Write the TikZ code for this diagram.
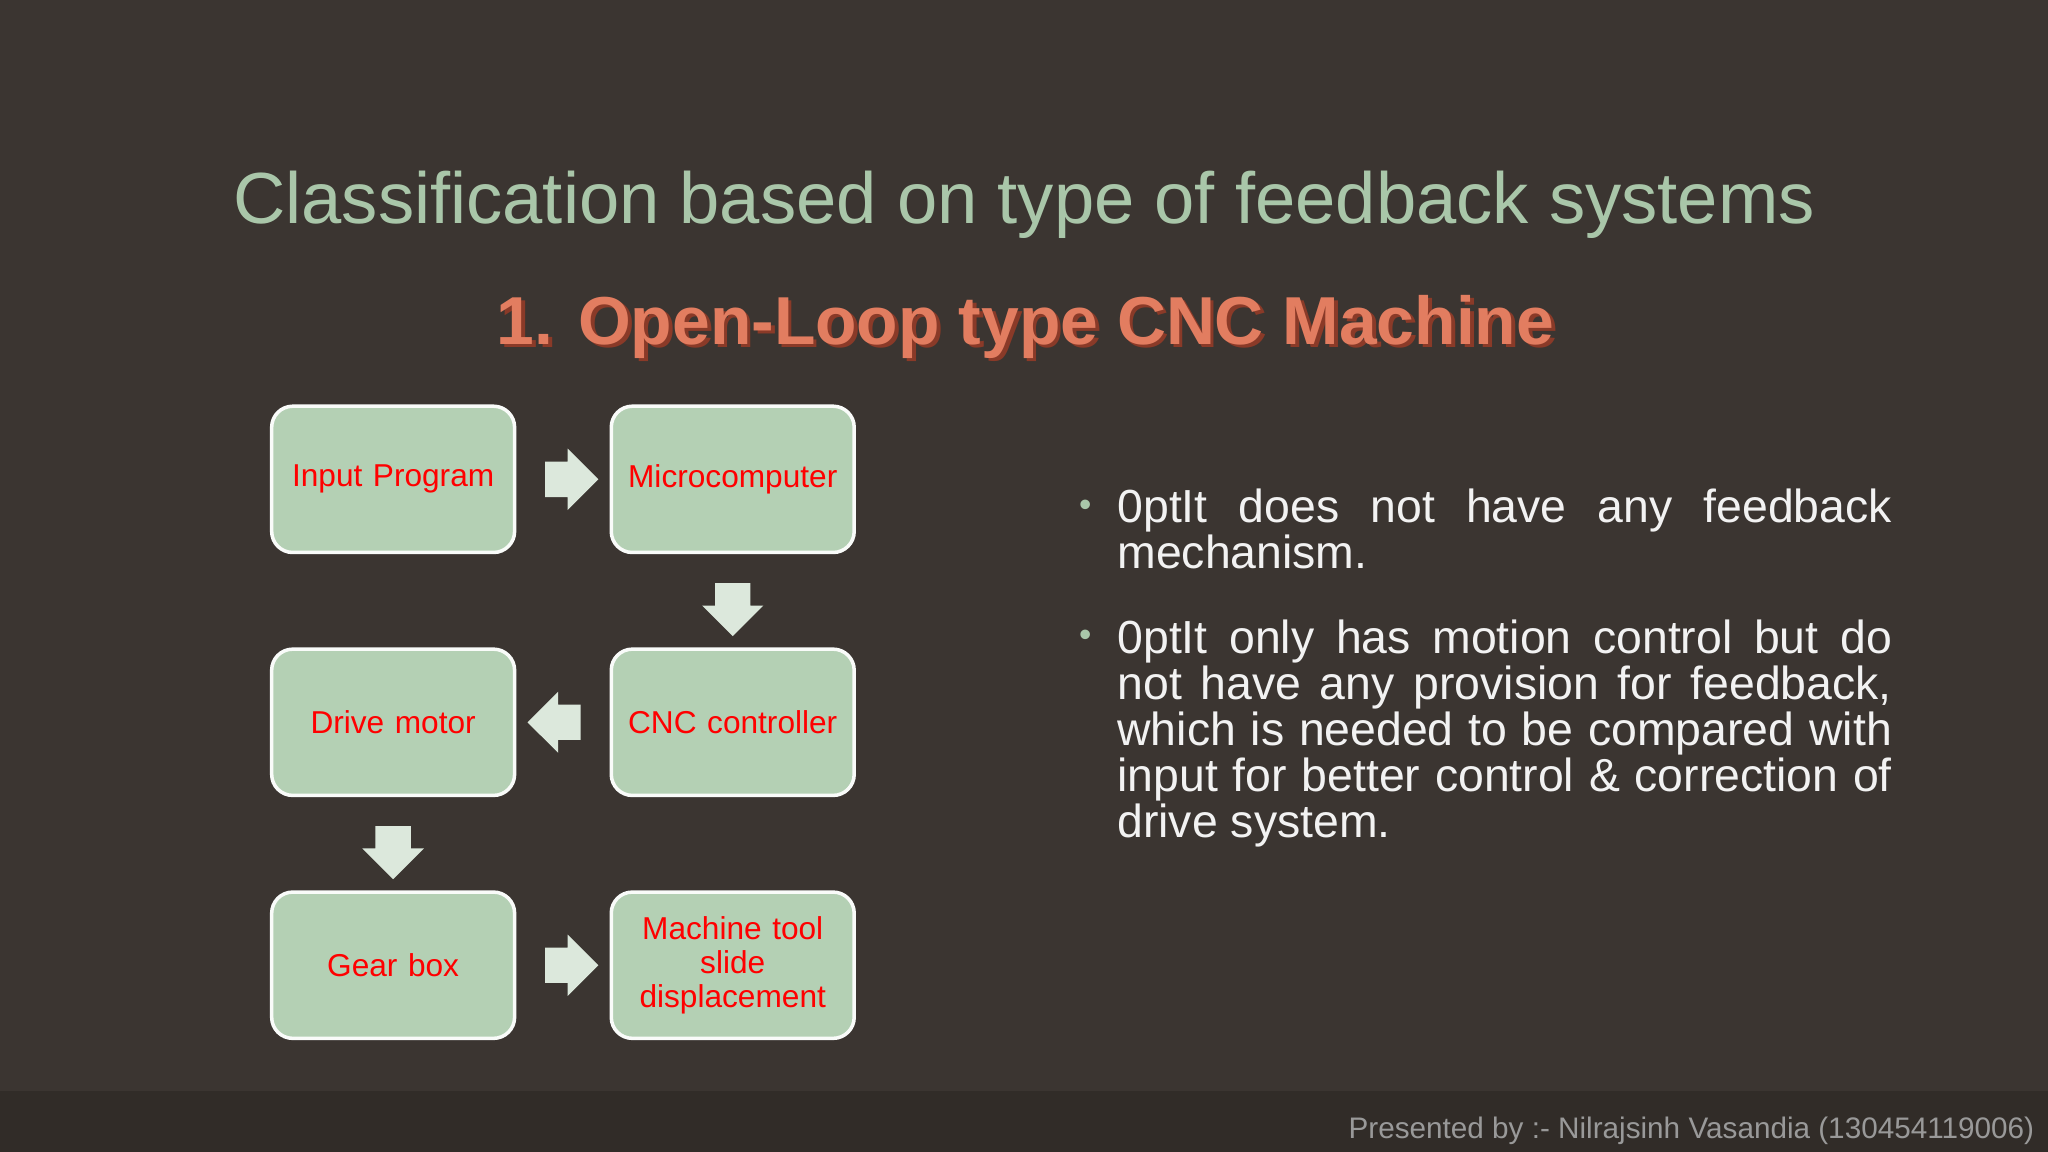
\documentclass[tikz,border=0pt]{standalone}
\usepackage{fontspec}
\setmainfont{Liberation Sans}
\usetikzlibrary{shapes.arrows,calc}
\definecolor{bg}{HTML}{3B3531}
\definecolor{foot}{HTML}{312C28}
\definecolor{ttl}{HTML}{A9C6A9}
\definecolor{sub}{HTML}{E27D60}
\definecolor{subd}{HTML}{8A3A28}
\definecolor{boxf}{HTML}{B4D0B4}
\definecolor{arr}{HTML}{DCE8DC}
\definecolor{txt}{HTML}{F2F2F2}
\begin{document}
\begin{tikzpicture}[x=0.01306cm,y=-0.01306cm,
  blk/.style={draw=white!92!boxf,line width=1pt,fill=boxf,rounded corners=6pt,minimum width=186*0.01306cm,minimum height=112*0.01306cm,text width=180*0.01306cm,align=center,text=red,font=\fontsize{9}{9.6}\selectfont,inner sep=0pt},
  arw/.style={single arrow,fill=arr,draw=none,single arrow head extend=0.13cm,minimum height=40*0.01306cm,inner sep=0.17cm},
  body/.style={anchor=north west,text=txt,text width=593*0.01306cm,align=justify,font=\fontsize{13.2}{13.1}\selectfont\hyphenpenalty=10000\exhyphenpenalty=10000,inner sep=0pt}]
\fill[bg] (0,0) rectangle (1568,882);
\fill[foot] (0,835) rectangle (1568,882);
\useasboundingbox (0,0) rectangle (1568,882);
\node[text=ttl,font=\fontsize{20.6}{24}\selectfont] (title) at (784,157) {Classification based on type of feedback systems};
\node[text=subd,font=\bfseries\fontsize{19.3}{23}\selectfont] (subsh) at (788,253) {1. Open-Loop type CNC Machine};
\node[text=sub,font=\bfseries\fontsize{19.3}{23}\selectfont] (subt) at (785,250) {1. Open-Loop type CNC Machine};
\node[blk] (a) at (301,367) {Input Program};
\node[blk] (b) at (561,367) {Microcomputer};
\node[blk] (c) at (561,553) {CNC controller};
\node[blk] (d) at (301,553) {Drive motor};
\node[blk] (e) at (301,739) {Gear box};
\node[blk] (f) at (561,739) {Machine tool\\ slide\\ displacement};
\node[arw] (ab) at ($(a)!0.5!(b)$) {};
\node[arw,shape border rotate=270] (bc) at ($(b)!0.5!(c)$) {};
\node[arw,shape border rotate=180] (cd) at ($(c)!0.5!(d)$) {};
\node[arw,shape border rotate=270] (de) at ($(d)!0.5!(e)$) {};
\node[arw] (ef) at ($(e)!0.5!(f)$) {};
\node[body] (t1) at (855,374) {It does not have any feedback mechanism.};
\node[body] (t2) at (855,474) {It only has motion control but do not have any provision for feedback, which is needed to be compared with input for better control \& correction of drive system.};
\node[text=ttl,font=\fontsize{10}{12}\selectfont] (b1) at (831,389) {•};
\node[text=ttl,font=\fontsize{10}{12}\selectfont] (b2) at (831,489) {•};
\node[anchor=east,text=gray!80,font=\fontsize{8.45}{10}\selectfont,inner sep=0pt] (ft) at (1558,866) {Presented by :- Nilrajsinh Vasandia (130454119006)};
\end{tikzpicture}
\end{document}
